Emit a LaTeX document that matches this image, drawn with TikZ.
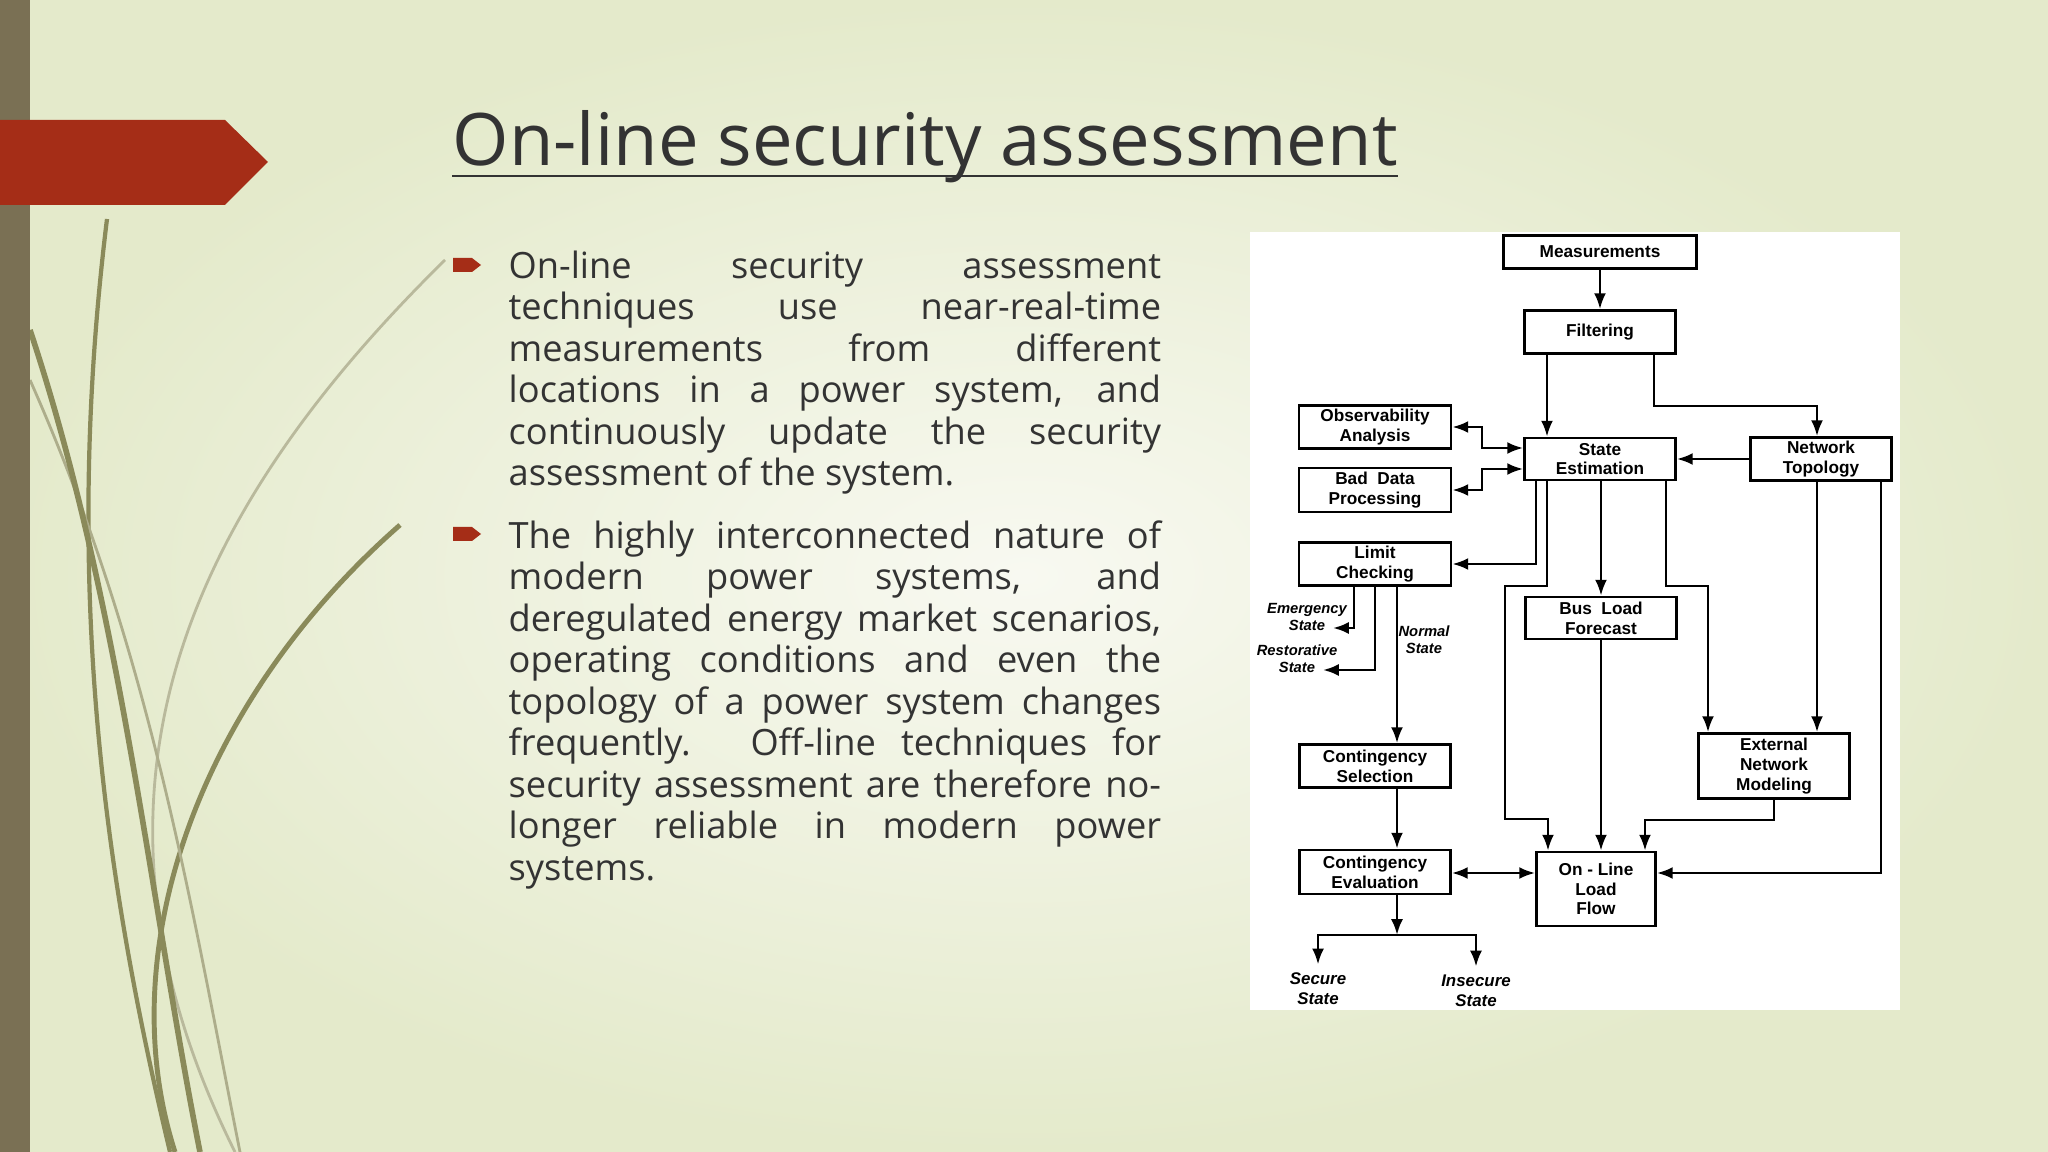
\documentclass[tikz,border=0pt]{standalone}
\usepackage{fontspec}
\setmainfont{Open Sans}
\newfontfamily\diag{Liberation Sans}
\usetikzlibrary{arrows.meta,shapes.geometric}
\definecolor{bgin}{HTML}{F8F9F1}
\definecolor{bgout}{HTML}{E4EACB}
\definecolor{barc}{HTML}{7A7054}
\definecolor{redc}{HTML}{A52D17}
\definecolor{curvc}{HTML}{8A8A5A}
\definecolor{txt}{HTML}{333333}
\tikzset{
  box/.style={draw,line width=0.75pt,fill=white,inner sep=0pt,font=\diag\bfseries\fontsize{4.9}{5.6}\selectfont,align=center},
  arr/.style={line width=0.75pt,-{Latex[length=4.5pt,width=3.4pt]}},
  darr/.style={line width=0.75pt,{Latex[length=4.5pt,width=3.4pt]}-{Latex[length=4.5pt,width=3.4pt]}},
  lbl/.style={font=\diag\bfseries\itshape\fontsize{4.2}{4.9}\selectfont,align=center,inner sep=0pt},
  deco/.style={curvc,line width=0.9pt}
}
\begin{document}
\begin{tikzpicture}[x=0.01cm,y=-0.01cm]
\useasboundingbox (0,0) rectangle (2048,1152);
\shade[inner color=bgin,outer color=bgout] (0,0) rectangle (2048,1152);
% decorative curves
\draw[deco,line width=1.2pt] (107,219) .. controls (60,600) and (110,900) .. (170,1152);
\draw[deco,curvc!60,line width=0.8pt] (445,260) .. controls (180,520) and (60,800) .. (235,1152);
\draw[deco,line width=1.4pt] (400,525) .. controls (200,700) and (110,950) .. (175,1152);
\draw[deco,curvc!70,line width=0.8pt] (30,380) .. controls (150,650) and (190,900) .. (240,1152);
\draw[deco,line width=1.6pt] (30,330) .. controls (120,600) and (150,900) .. (200,1152);
\fill[barc] (0,0) rectangle (30,1152);
\fill[redc] (0,120) -- (225,120) -- (268,162) -- (225,205) -- (0,205) -- cycle;
% title
\node[anchor=base west,inner sep=0pt,text=txt,font=\fontsize{20.6}{24}\selectfont] (title) at (452,166) {On-line security assessment};
\draw[txt,line width=0.8pt] ([yshift=-0.1cm]title.base west) -- ([yshift=-0.1cm]title.base east);
% bullets
\fill[redc] (453,258) -- (472,258) -- (481,265) -- (472,272) -- (453,272) -- cycle;
\fill[redc] (453,527) -- (472,527) -- (481,534) -- (472,541) -- (453,541) -- cycle;
\node[anchor=north west,inner sep=0pt,text=txt] (b1) at (508,250) {\parbox[t]{6.52cm}{\fontsize{10.3}{11.8}\selectfont
On-line security assessment\linebreak techniques use near-real-time\linebreak measurements from different\linebreak locations in a power system, and\linebreak continuously update the security\linebreak assessment of the system.}};
\node[anchor=north west,inner sep=0pt,text=txt] (b2) at (508,520) {\parbox[t]{6.52cm}{\fontsize{10.3}{11.8}\selectfont
The highly interconnected nature of\linebreak modern power systems, and\linebreak deregulated energy market scenarios,\linebreak operating conditions and even the\linebreak topology of a power system changes\linebreak frequently. Off-line techniques for\linebreak security assessment are therefore no-\linebreak longer reliable in modern power\linebreak systems.}};
% diagram panel
\fill[white] (1250,232) rectangle (1900,1010);
\node[box,minimum width=1.93cm,minimum height=0.33cm] (meas) at (1600,252) {Measurements};
\node[box,minimum width=1.51cm,minimum height=0.43cm] (filt) at (1600,332) {Filtering};
\node[box,minimum width=1.52cm,minimum height=0.43cm] (obs) at (1375,427) {Observability\\Analysis};
\node[box,minimum width=1.51cm,minimum height=0.42cm] (se) at (1600,459) {State\\Estimation};
\node[box,minimum width=1.41cm,minimum height=0.43cm] (nt) at (1821,459) {Network\\Topology};
\node[box,minimum width=1.52cm,minimum height=0.44cm] (bd) at (1375,490) {Bad\ \ Data\\Processing};
\node[box,minimum width=1.52cm,minimum height=0.43cm] (lc) at (1375,564) {Limit\\Checking};
\node[box,minimum width=1.51cm,minimum height=0.42cm] (bl) at (1601,618) {Bus\ \ Load\\Forecast};
\node[box,minimum width=1.51cm,minimum height=0.43cm] (cs) at (1375,766) {Contingency\\Selection};
\node[box,minimum width=1.51cm,minimum height=0.44cm] (ce) at (1375,872) {Contingency\\Evaluation};
\node[box,minimum width=1.19cm,minimum height=0.74cm] (ol) at (1596,889) {On - Line\\Load\\Flow};
\node[box,minimum width=1.51cm,minimum height=0.65cm] (en) at (1774,766) {External\\Network\\Modeling};
\node[lbl] (emer) at (1307,617) {Emergency\\State};
\node[lbl] (rest) at (1297,659) {Restorative\\State};
\node[lbl] (norm) at (1424,640) {Normal\\State};
\node[lbl,font=\diag\bfseries\itshape\fontsize{4.8}{5.6}\selectfont] (sec) at (1318,989) {Secure\\State};
\node[lbl,font=\diag\bfseries\itshape\fontsize{4.8}{5.6}\selectfont] (insec) at (1476,991) {Insecure\\State};
% helper coordinates
\foreach \x in {1333,1354,1375,1397,1482,1505,1536,1547,1548,1601,1645,1654,1666,1708,1817,1881} {\coordinate (x\x) at (\x,0);}
\foreach \y in {406,427,448,469,490,586,628,670,819,820,873,935} {\coordinate (y\y) at (0,\y);}
% connectors
\draw[arr] (meas) -- (filt);
\draw[arr] (filt.south -| x1547) -- (se.north -| x1547);
\draw[arr] (filt.south -| x1654) |- (x1817 |- y406) -- (nt.north -| x1817);
\draw[darr] (obs.east |- y427) -| (x1482 |- y448) -- (se.west |- y448);
\draw[darr] (se.west |- y469) -| (x1482 |- y490) -- (bd.east |- y490);
\draw[arr] (nt.west |- se.east) -- (se.east);
\draw[arr] (se.south -| x1536) |- (lc.east);
\draw[arr] (se.south -| x1547) -- (x1547 |- y586) -| (x1505 |- y819) -| (ol.north -| x1548);
\draw[arr] (bl.north |- se.south) -- (bl.north);
\draw[arr] (bl.south) -- (bl.south |- ol.north);
\draw[arr] (se.south -| x1666) -- (x1666 |- y586) -| (en.north -| x1708);
\draw[arr] (nt.south -| x1817) -- (en.north -| x1817);
\draw[arr] (en.south) |- (x1645 |- y820) -- (ol.north -| x1645);
\draw[arr] (nt.south -| x1881) |- (ol.east |- y873);
\draw[darr] (ce.east |- y873) -- (ol.west |- y873);
\draw[arr] (lc.south -| x1397) -- (cs.north -| x1397);
\draw[arr] (cs.south -| x1397) -- (ce.north -| x1397);
\draw[arr] (lc.south -| x1354) |- (x1333 |- y628);
\draw[arr] (lc.south -| x1375) |- (x1333 |- y670) -- ++(-10,0);
\coordinate (jn) at (1397,935);
\draw[arr] (ce.south -| x1397) -- (jn);
\draw[arr] (jn) -| ([yshift=0.08cm]sec.north);
\draw[arr] (jn) -| ([yshift=0.08cm]insec.north);
\end{tikzpicture}
\end{document}
